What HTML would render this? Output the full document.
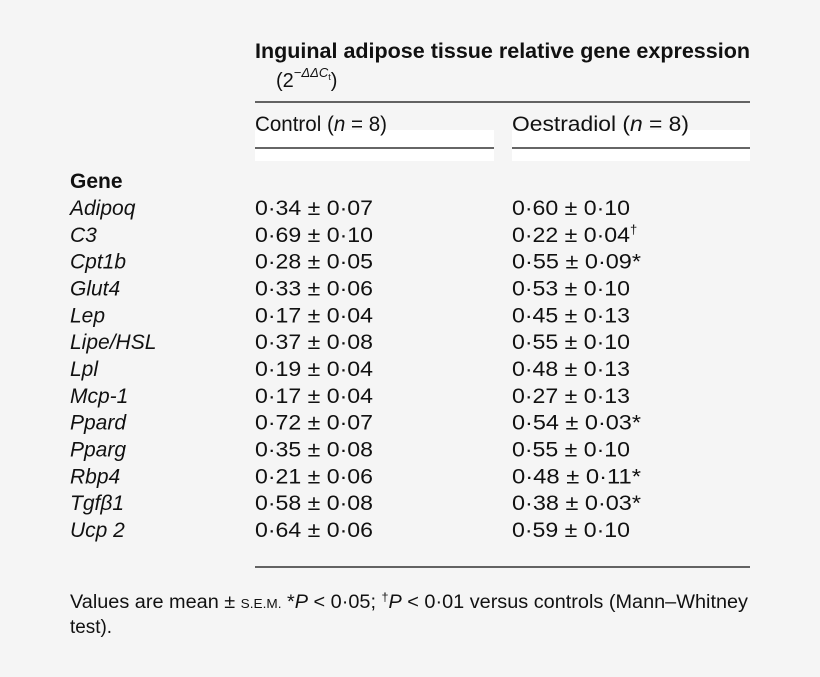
<!DOCTYPE html>
<html><head><meta charset="utf-8"><style>
html,body{margin:0;padding:0;background:#f5f5f5}
svg{display:block}
text{font-family:"Liberation Sans",sans-serif;fill:#111}
.r{font-size:21px}
.i{font-style:italic}
</style></head><body>
<svg width="820" height="677" viewBox="0 0 820 677" xmlns="http://www.w3.org/2000/svg">
<rect width="820" height="677" fill="#f5f5f5"/>
<rect x="255" y="130" width="239" height="31" fill="#fff"/>
<rect x="512" y="130" width="238" height="31" fill="#fff"/>
<text x="255" y="58" font-size="21" font-weight="bold" textLength="495" lengthAdjust="spacingAndGlyphs">Inguinal adipose tissue relative gene expression</text>
<text x="276" y="87" font-size="20" font-family="Liberation Serif">(2<tspan font-size="13" dy="-10" font-style="italic">−ΔΔC</tspan><tspan font-size="9" dy="3">t</tspan><tspan dy="7" font-size="20">)</tspan></text>
<line x1="255" y1="102" x2="750" y2="102" stroke="#333" stroke-width="1.5"/>
<text x="255" y="131" class="r" textLength="132" lengthAdjust="spacingAndGlyphs">Control (<tspan class="i">n</tspan> = 8)</text>
<text x="512" y="131" class="r" textLength="177" lengthAdjust="spacingAndGlyphs">Oestradiol (<tspan class="i">n</tspan> = 8)</text>
<line x1="255" y1="148" x2="494" y2="148" stroke="#333" stroke-width="1.5"/>
<line x1="512" y1="148" x2="750" y2="148" stroke="#333" stroke-width="1.5"/>
<text x="70" y="188" class="r" font-weight="bold">Gene</text>
<g>
<text x="70" y="215" class="r i">Adipoq</text><text x="255" y="215" class="r" textLength="118" lengthAdjust="spacingAndGlyphs">0·34 ± 0·07</text><text x="512" y="215" class="r" textLength="118" lengthAdjust="spacingAndGlyphs">0·60 ± 0·10</text>
<text x="70" y="241.8" class="r i">C3</text><text x="255" y="241.8" class="r" textLength="118" lengthAdjust="spacingAndGlyphs">0·69 ± 0·10</text><text x="512" y="241.8" class="r"><tspan textLength="118" lengthAdjust="spacingAndGlyphs">0·22 ± 0·04</tspan><tspan font-size="13" dy="-8">†</tspan></text>
<text x="70" y="268.7" class="r i">Cpt1b</text><text x="255" y="268.7" class="r" textLength="118" lengthAdjust="spacingAndGlyphs">0·28 ± 0·05</text><text x="512" y="268.7" class="r" textLength="129" lengthAdjust="spacingAndGlyphs">0·55 ± 0·09*</text>
<text x="70" y="295.5" class="r i">Glut4</text><text x="255" y="295.5" class="r" textLength="118" lengthAdjust="spacingAndGlyphs">0·33 ± 0·06</text><text x="512" y="295.5" class="r" textLength="118" lengthAdjust="spacingAndGlyphs">0·53 ± 0·10</text>
<text x="70" y="322.3" class="r i">Lep</text><text x="255" y="322.3" class="r" textLength="118" lengthAdjust="spacingAndGlyphs">0·17 ± 0·04</text><text x="512" y="322.3" class="r" textLength="118" lengthAdjust="spacingAndGlyphs">0·45 ± 0·13</text>
<text x="70" y="349.2" class="r i">Lipe/HSL</text><text x="255" y="349.2" class="r" textLength="118" lengthAdjust="spacingAndGlyphs">0·37 ± 0·08</text><text x="512" y="349.2" class="r" textLength="118" lengthAdjust="spacingAndGlyphs">0·55 ± 0·10</text>
<text x="70" y="376" class="r i">Lpl</text><text x="255" y="376" class="r" textLength="118" lengthAdjust="spacingAndGlyphs">0·19 ± 0·04</text><text x="512" y="376" class="r" textLength="118" lengthAdjust="spacingAndGlyphs">0·48 ± 0·13</text>
<text x="70" y="402.8" class="r i">Mcp-1</text><text x="255" y="402.8" class="r" textLength="118" lengthAdjust="spacingAndGlyphs">0·17 ± 0·04</text><text x="512" y="402.8" class="r" textLength="118" lengthAdjust="spacingAndGlyphs">0·27 ± 0·13</text>
<text x="70" y="429.7" class="r i">Ppard</text><text x="255" y="429.7" class="r" textLength="118" lengthAdjust="spacingAndGlyphs">0·72 ± 0·07</text><text x="512" y="429.7" class="r" textLength="129" lengthAdjust="spacingAndGlyphs">0·54 ± 0·03*</text>
<text x="70" y="456.5" class="r i">Pparg</text><text x="255" y="456.5" class="r" textLength="118" lengthAdjust="spacingAndGlyphs">0·35 ± 0·08</text><text x="512" y="456.5" class="r" textLength="118" lengthAdjust="spacingAndGlyphs">0·55 ± 0·10</text>
<text x="70" y="483.3" class="r i">Rbp4</text><text x="255" y="483.3" class="r" textLength="118" lengthAdjust="spacingAndGlyphs">0·21 ± 0·06</text><text x="512" y="483.3" class="r" textLength="129" lengthAdjust="spacingAndGlyphs">0·48 ± 0·11*</text>
<text x="70" y="510.2" class="r i">Tgfβ1</text><text x="255" y="510.2" class="r" textLength="118" lengthAdjust="spacingAndGlyphs">0·58 ± 0·08</text><text x="512" y="510.2" class="r" textLength="129" lengthAdjust="spacingAndGlyphs">0·38 ± 0·03*</text>
<text x="70" y="537" class="r i">Ucp 2</text><text x="255" y="537" class="r" textLength="118" lengthAdjust="spacingAndGlyphs">0·64 ± 0·06</text><text x="512" y="537" class="r" textLength="118" lengthAdjust="spacingAndGlyphs">0·59 ± 0·10</text>
</g>
<line x1="255" y1="567" x2="750" y2="567" stroke="#333" stroke-width="1.5"/>
<text x="70" y="608" font-size="19" textLength="678" lengthAdjust="spacingAndGlyphs">Values are mean ± <tspan font-size="13">S.E.M.</tspan> *<tspan class="i">P</tspan> &lt; 0·05; <tspan font-size="12" dy="-7">†</tspan><tspan dy="7" class="i">P</tspan> &lt; 0·01 versus controls (Mann–Whitney</text>
<text x="70" y="633" font-size="19" textLength="42" lengthAdjust="spacingAndGlyphs">test).</text>
</svg>
</body></html>
